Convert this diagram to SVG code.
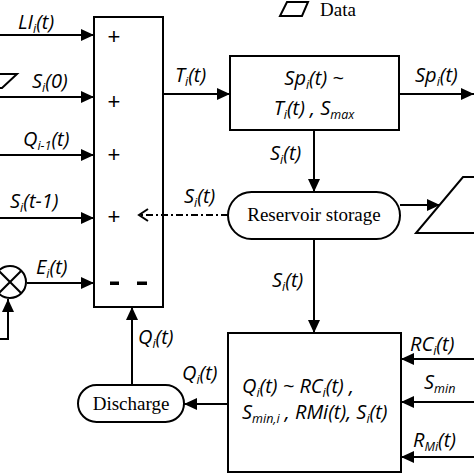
<svg xmlns="http://www.w3.org/2000/svg" width="474" height="474" viewBox="0 0 474 474">
<defs>
<marker id="ah" markerUnits="userSpaceOnUse" markerWidth="14" markerHeight="12" refX="13" refY="6" orient="auto">
<path d="M0,0 L13,6 L0,12 z" fill="#000"/>
</marker>
<marker id="oh" markerUnits="userSpaceOnUse" markerWidth="14" markerHeight="14" refX="10" refY="7" orient="auto">
<path d="M1,1 L10,7 L1,13" fill="none" stroke="#000" stroke-width="2"/>
</marker>
<style>
.ln{stroke:#000;stroke-width:2;fill:none}
.bx{stroke:#000;stroke-width:2;fill:#fff}
.lb{font-family:"Open Sans","DejaVu Sans",sans-serif;font-style:italic;font-size:20px;fill:#000}
.sb{font-size:12.5px}
.sf{font-family:"Liberation Serif","Times New Roman",serif;font-size:19px;fill:#000}
.sg{font-family:"Liberation Sans",Arial,sans-serif;font-size:22px;fill:#000}
</style>
</defs>
<rect width="474" height="474" fill="#fff"/>

<g id="legend">
<polygon points="287,2 308,2 302,16 280,16" class="ln"/>
<text x="320" y="16" class="sf" font-size="16">Data</text>
</g>

<g id="summation">
<rect x="94" y="17" width="69" height="290" class="bx"/>
<text x="114" y="44" class="sg" text-anchor="middle">+</text>
<text x="114" y="109" class="sg" text-anchor="middle">+</text>
<text x="114" y="162" class="sg" text-anchor="middle">+</text>
<text x="114" y="224" class="sg" text-anchor="middle">+</text>
<rect x="110" y="281.5" width="9" height="3.5" fill="#000"/>
<rect x="137" y="281.5" width="10" height="3.5" fill="#000"/>
</g>

<g id="connectors">
<line x1="0" y1="35" x2="94" y2="35" class="ln" marker-end="url(#ah)"/>
<line x1="0" y1="97" x2="94" y2="97" class="ln" marker-end="url(#ah)"/>
<line x1="0" y1="155" x2="94" y2="155" class="ln" marker-end="url(#ah)"/>
<line x1="0" y1="218" x2="94" y2="218" class="ln" marker-end="url(#ah)"/>
<line x1="27" y1="283" x2="94" y2="283" class="ln" marker-end="url(#ah)"/>
<path d="M0,339 H8 V299" class="ln" marker-end="url(#ah)"/>
<line x1="163" y1="94" x2="230" y2="94" class="ln" marker-end="url(#ah)"/>
<line x1="399" y1="94" x2="474" y2="94" class="ln" marker-end="url(#ah)"/>
<line x1="314" y1="130" x2="314" y2="192" class="ln" marker-end="url(#ah)"/>
<line x1="400" y1="205" x2="440" y2="205" class="ln" marker-end="url(#ah)"/>
<line x1="228" y1="215" x2="139" y2="215" class="ln" stroke-dasharray="7,3,2,3" marker-end="url(#oh)"/>
<line x1="314" y1="239" x2="314" y2="333" class="ln" marker-end="url(#ah)"/>
<line x1="474" y1="359" x2="401" y2="359" class="ln" marker-end="url(#ah)"/>
<line x1="474" y1="402" x2="401" y2="402" class="ln" marker-end="url(#ah)"/>
<line x1="474" y1="457" x2="401" y2="457" class="ln" marker-end="url(#ah)"/>
<line x1="228" y1="404" x2="184" y2="404" class="ln" marker-end="url(#ah)"/>
<line x1="132" y1="385" x2="132" y2="307" class="ln" marker-end="url(#ah)"/>
</g>

<g id="labels">
<text x="18" y="29" class="lb">LI<tspan class="sb" dy="4">i</tspan><tspan dy="-4">(t)</tspan></text>
<text x="32" y="88" class="lb">S<tspan class="sb" dy="4">i</tspan><tspan dy="-4">(0)</tspan></text>
<text x="23" y="146" class="lb">Q<tspan class="sb" dy="4">i-1</tspan><tspan dy="-4">(t)</tspan></text>
<text x="10" y="208" class="lb">S<tspan class="sb" dy="4">i</tspan><tspan dy="-4">(t-1)</tspan></text>
<text x="36" y="274" class="lb">E<tspan class="sb" dy="4">i</tspan><tspan dy="-4">(t)</tspan></text>
<text x="175" y="82" class="lb">T<tspan class="sb" dy="4">i</tspan><tspan dy="-4">(t)</tspan></text>
<text x="415" y="82" class="lb">Sp<tspan class="sb" dy="4">i</tspan><tspan dy="-4">(t)</tspan></text>
<text x="270" y="160" class="lb">S<tspan class="sb" dy="4">i</tspan><tspan dy="-4">(t)</tspan></text>
<text x="184" y="203" class="lb">S<tspan class="sb" dy="4">i</tspan><tspan dy="-4">(t)</tspan></text>
<text x="272" y="287" class="lb">S<tspan class="sb" dy="4">i</tspan><tspan dy="-4">(t)</tspan></text>
<text x="410" y="351" class="lb">RC<tspan class="sb" dy="4">i</tspan><tspan dy="-4">(t)</tspan></text>
<text x="424" y="389" class="lb">S<tspan class="sb" dy="4">min</tspan></text>
<text x="413" y="447" class="lb">R<tspan class="sb" dy="4">Mi</tspan><tspan dy="-4">(t)</tspan></text>
<text x="182" y="380" class="lb">Q<tspan class="sb" dy="4">i</tspan><tspan dy="-4">(t)</tspan></text>
<text x="138" y="344" class="lb">Q<tspan class="sb" dy="4">i</tspan><tspan dy="-4">(t)</tspan></text>
</g>

<g id="data-left">
<polygon points="-40,74 17,74 2,88 -55,88" class="ln"/>
</g>

<g id="multiplier">
<circle cx="10" cy="282" r="16" class="bx"/>
<line x1="-1.3" y1="270.7" x2="21.3" y2="293.3" class="ln"/>
<line x1="-1.3" y1="293.3" x2="21.3" y2="270.7" class="ln"/>
</g>

<g id="spill">
<rect x="230" y="56" width="169" height="74" class="bx"/>
<text x="314" y="85" class="lb" text-anchor="middle">Sp<tspan class="sb" dy="4">i</tspan><tspan dy="-4">(t) ~</tspan></text>
<text x="314" y="115" class="lb" text-anchor="middle">T<tspan class="sb" dy="4">i</tspan><tspan dy="-4">(t) , S</tspan><tspan class="sb" dy="4">max</tspan></text>
</g>

<g id="reservoir">
<rect x="228" y="192" width="172" height="47" rx="23.5" class="bx"/>
<text x="314" y="221" class="sf" text-anchor="middle">Reservoir storage</text>
</g>

<g id="data-right">
<polygon points="463,177 530,177 483,233 416,233" class="ln"/>
</g>

<g id="release">
<rect x="228" y="333" width="173" height="139" class="bx"/>
<text x="242" y="393" class="lb">Q<tspan class="sb" dy="4">i</tspan><tspan dy="-4">(t) ~ RC</tspan><tspan class="sb" dy="4">i</tspan><tspan dy="-4">(t) ,</tspan></text>
<text x="242" y="419" class="lb">S<tspan class="sb" dy="4">min,i</tspan><tspan dy="-4"> , RMi(t), S</tspan><tspan class="sb" dy="4">i</tspan><tspan dy="-4">(t)</tspan></text>
</g>

<g id="discharge">
<rect x="78" y="385" width="106" height="37" rx="18.5" class="bx"/>
<text x="131" y="410" class="sf" text-anchor="middle">Discharge</text>
</g>
</svg>
